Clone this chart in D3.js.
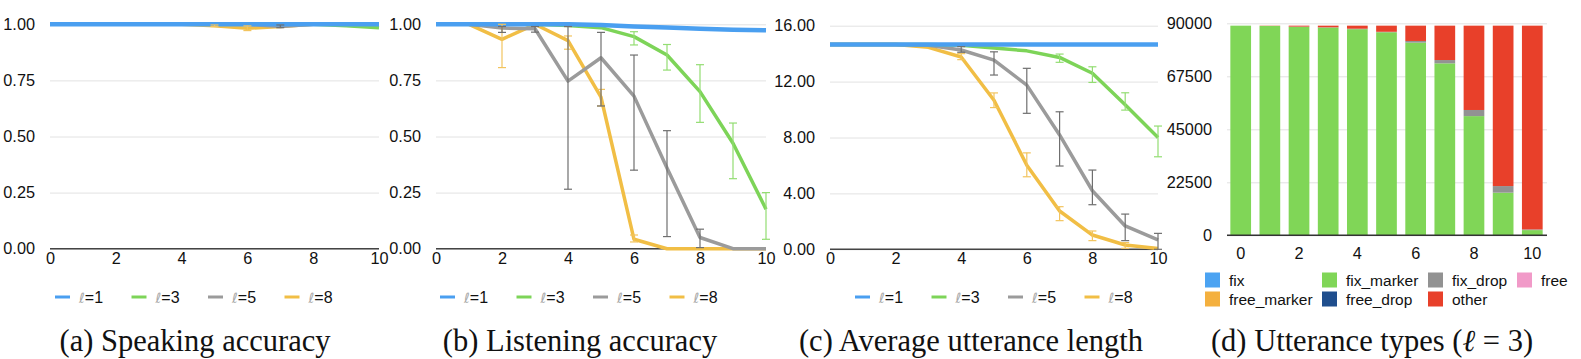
<!DOCTYPE html>
<html><head><meta charset="utf-8">
<script src="https://cdn.jsdelivr.net/npm/d3@7"></script>
<style>body{margin:0;background:#fff}</style>
</head><body><svg id="c" width="1581" height="359"></svg>
<script>
// ---------- data ----------
const steps = [0,1,2,3,4,5,6,7,8,9,10];
const stepTicks = [0,2,4,6,8,10];
const seriesLabels = ["1","3","5","8"];

// (a) Speaking accuracy
const speak1 = [1,1,1,1,1,1,1,1,1,1,1];
const speak3 = [1,1,1,1,1,1,1,1,1,0.994,0.985];
const speak5 = [1,1,1,1,1,1,1,0.99,1,1,1];
const speak8 = [1,1,1,1,1,0.993,0.982,0.99,1,1,1];
const speak5Lo = [null,null,null,null,null,null,null,0.985,null,null,null];
const speak5Hi = [null,null,null,null,null,null,null,0.997,null,null,null];
const speak8Lo = [null,null,null,null,null,0.99,0.972,null,null,null,null];
const speak8Hi = [null,null,null,null,null,0.997,0.993,null,null,null,null];
const accTicks = [0,0.25,0.5,0.75,1];

// (b) Listening accuracy
const listen1 = [1,1,1,1,1,0.997,0.99,0.986,0.98,0.976,0.973];
const listen3 = [1,1,1,1,0.995,0.985,0.945,0.863,0.70,0.47,0.176];
const listen5 = [1,1,0.983,0.98,0.747,0.851,0.68,0.36,0.05,0,0];
const listen8 = [1,1,0.933,1,0.927,0.675,0.042,0,0,0,0];
const listen3Lo = [null,null,null,null,null,null,0.908,0.796,0.563,0.312,0.042];
const listen3Hi = [null,null,null,null,null,null,0.967,0.91,0.82,0.56,0.25];
const listen5Lo = [null,null,0.964,0.965,0.265,0.636,0.35,0.054,0.005,null,null];
const listen5Hi = [null,null,0.99,0.99,0.99,0.964,0.863,0.526,0.087,null,null];
const listen8Lo = [null,null,0.807,null,0.889,0.636,0.03,null,null,null,null];
const listen8Hi = [null,null,1.0,null,0.948,0.71,0.061,null,null,null,null];

// (c) Average utterance length
const len1 = [14.65,14.65,14.65,14.65,14.65,14.65,14.65,14.65,14.65,14.65,14.65];
const len3 = [14.65,14.65,14.65,14.65,14.6,14.4,14.2,13.73,12.6,10.35,8.0];
const len5 = [14.65,14.65,14.65,14.6,14.26,13.54,11.75,8.18,4.19,1.67,0.67];
const len8 = [14.65,14.65,14.65,14.45,13.76,10.67,6.02,2.74,1.02,0.31,0.05];
const len3Lo = [null,null,null,null,null,null,null,13.38,11.94,9.96,6.62];
const len3Hi = [null,null,null,null,null,null,null,13.97,13.06,11.2,8.82];
const len5Lo = [null,null,null,null,14.1,12.47,9.73,5.96,3.19,0.62,0];
const len5Hi = [null,null,null,null,14.5,14.13,12.95,9.84,5.67,2.52,1.14];
const len8Lo = [null,null,null,null,13.57,10.14,5.19,2.05,0.62,0.07,null];
const len8Hi = [null,null,null,null,14.0,11.19,6.9,3.05,1.31,0.48,null];
const lenTicks = [0,4,8,12,16];

// (d) Utterance types (l=3)
const typeNames = ["fix","fix_marker","fix_drop","free","free_marker","free_drop","other"];
const cntFix        = [0,0,0,0,0,0,0,0,0,0,0];
const cntFixMarker  = [89000,88900,88500,88200,87500,86200,81800,73000,50600,18100,2200];
const cntFixDrop    = [0,0,100,100,200,200,700,1400,2600,2800,300];
const cntFree       = [0,0,0,0,0,0,0,0,0,0,0];
const cntFreeMarker = [0,0,0,0,0,0,0,0,0,0,0];
const cntFreeDrop   = [0,0,0,0,0,0,0,0,0,0,0];
const cntOther      = [0,100,400,700,1300,2600,6500,14600,35800,68100,86500];
const cntTicks = [0,22500,45000,67500,90000];

const captions = ["(a) Speaking accuracy","(b) Listening accuracy","(c) Average utterance length"];

// ---------- styles ----------
const lineColors = ["#4a9ff0","#7dd458","#9b9b9b","#f1be45"];
const errColors  = ["#4a9ff0","#93dd72","#6f6f6f","#f2c45e"];
const typeColors = ["#4ba3f2","#80d657","#929292","#f19ac8","#f4b03e","#1f4e8d","#e8402a"];
const sansFont = "'Liberation Sans', Arial, Helvetica, sans-serif";
const serifFont = "'Liberation Serif', 'Times New Roman', serif";
const tickSize = 16.3;

const svg = d3.select("#c");
svg.append("rect").attr("width",1581).attr("height",359).attr("fill","#fff");

function linePanel(cfg){
  const g = svg.append("g");
  const x = d3.scaleLinear().domain([0,10]).range([cfg.x0,cfg.x1]);
  const y = d3.scaleLinear().domain([cfg.ticks[0], cfg.ticks[cfg.ticks.length-1]]).range([cfg.yb,cfg.yt]);
  const ya = g.append("g").attr("transform",`translate(${cfg.x0},0)`)
    .call(d3.axisLeft(y).tickValues(cfg.ticks).tickSize(-(cfg.x1-cfg.x0)).tickPadding(15).tickFormat(d3.format(".2f")));
  ya.select(".domain").remove();
  ya.selectAll("line").attr("stroke","#e2e2e2").attr("stroke-width",1);
  ya.selectAll("text").attr("font-family",sansFont).attr("font-size",tickSize).attr("fill","#111");
  g.append("line").attr("x1",cfg.x0).attr("x2",cfg.x1).attr("y1",y(0)).attr("y2",y(0))
    .attr("stroke","#444").attr("stroke-width",1.5);
  const xa = g.append("g").attr("transform",`translate(0,${cfg.yb})`)
    .call(d3.axisBottom(x).tickValues(stepTicks).tickSize(0).tickPadding(3.5));
  xa.select(".domain").remove();
  xa.selectAll("text").attr("font-family",sansFont).attr("font-size",tickSize).attr("fill","#111");

  const line = d3.line().x((d,i)=>x(steps[i])).y(d=>y(d));
  const order = [3,2,1,0];
  order.forEach(si=>{
    g.append("path").datum(cfg.series[si]).attr("d",line).attr("fill","none")
      .attr("stroke",lineColors[si]).attr("stroke-width", si===0?4.5:3.5)
      .attr("stroke-linejoin","round").attr("stroke-linecap","butt");
  });
  order.forEach(si=>{
    const lo = cfg.lo[si], hi = cfg.hi[si];
    if(!lo) return;
    steps.forEach((s,i)=>{
      if(lo[i]==null) return;
      const eg = g.append("g").attr("stroke",errColors[si]).attr("stroke-width",1.2);
      eg.append("line").attr("x1",x(s)).attr("x2",x(s)).attr("y1",y(lo[i])).attr("y2",y(hi[i]));
      eg.append("line").attr("x1",x(s)-4).attr("x2",x(s)+4).attr("y1",y(lo[i])).attr("y2",y(lo[i]));
      eg.append("line").attr("x1",x(s)-4).attr("x2",x(s)+4).attr("y1",y(hi[i])).attr("y2",y(hi[i]));
    });
  });
  // legend
  seriesLabels.forEach((lab,i)=>{
    const lx = cfg.legX + i*76.5, ly = 297;
    g.append("line").attr("x1",lx).attr("x2",lx+15).attr("y1",ly).attr("y2",ly)
      .attr("stroke",lineColors[i]).attr("stroke-width",3);
    const t = g.append("text").attr("x",lx+24).attr("y",ly+5.8)
      .attr("font-family",sansFont).attr("font-size",16).attr("fill","#111");
    t.append("tspan").attr("fill","#aaa").attr("font-family","'DejaVu Sans', sans-serif").attr("font-size",14).text("ℓ");
    t.append("tspan").text("="+lab);
  });
  g.append("text").attr("x",cfg.capX).attr("y",351).attr("text-anchor","middle")
    .attr("font-family",serifFont).attr("font-size",30.5).attr("fill","#111").text(cfg.caption);
}

linePanel({x0:50,x1:379,yt:24.3,yb:248.7,ticks:accTicks,
  series:[speak1,speak3,speak5,speak8], lo:[null,null,speak5Lo,speak8Lo], hi:[null,null,speak5Hi,speak8Hi],
  legX:55, capX:195, caption:captions[0]});
linePanel({x0:436,x1:766,yt:24.3,yb:248.7,ticks:accTicks,
  series:[listen1,listen3,listen5,listen8], lo:[null,listen3Lo,listen5Lo,listen8Lo], hi:[null,listen3Hi,listen5Hi,listen8Hi],
  legX:440, capX:580, caption:captions[1]});
linePanel({x0:830,x1:1158,yt:25.7,yb:249.3,ticks:lenTicks,
  series:[len1,len3,len5,len8], lo:[null,len3Lo,len5Lo,len8Lo], hi:[null,len3Hi,len5Hi,len8Hi],
  legX:855, capX:971, caption:captions[2]});

// ---------- (d) stacked bars ----------
(function(){
  const g = svg.append("g");
  const x = d3.scaleBand().domain(steps).range([1227,1546]).paddingInner(0.29).paddingOuter(0.115);
  const y = d3.scaleLinear().domain([0,90000]).range([235.3,23.3]);
  const ya = g.append("g").attr("transform","translate(1227,0)")
    .call(d3.axisLeft(y).tickValues(cntTicks).tickSize(-320).tickPadding(15).tickFormat(d3.format("d")));
  ya.select(".domain").remove();
  ya.selectAll("line").attr("stroke","#e2e2e2");
  ya.selectAll("text").attr("font-family",sansFont).attr("font-size",tickSize).attr("fill","#111");
  const cols = [cntFix,cntFixMarker,cntFixDrop,cntFree,cntFreeMarker,cntFreeDrop,cntOther];
  const table = steps.map((s,i)=>{ const o={step:s}; typeNames.forEach((n,k)=>o[n]=cols[k][i]); return o; });
  const stack = d3.stack().keys(typeNames)(table);
  stack.forEach((layer,k)=>{
    g.append("g").attr("fill",typeColors[k]).selectAll("rect").data(layer).join("rect")
      .attr("x",d=>x(d.data.step)).attr("width",x.bandwidth())
      .attr("y",d=>y(d[1])).attr("height",d=>Math.max(0,y(d[0])-y(d[1])));
  });
  g.append("line").attr("x1",1227).attr("x2",1547).attr("y1",y(0)).attr("y2",y(0))
    .attr("stroke","#333").attr("stroke-width",1.5);
  const xa = g.append("g").attr("transform",`translate(0,${y(0)})`)
    .call(d3.axisBottom(x).tickValues(stepTicks).tickSize(0).tickPadding(12));
  xa.select(".domain").remove();
  xa.selectAll("text").attr("font-family",sansFont).attr("font-size",tickSize).attr("fill","#111");
  // legend
  const legPos = [[1205,280],[1322,280],[1428,280],[1517,280],[1205,299],[1322,299],[1428,299]];
  typeNames.forEach((name,k)=>{
    const [lx,ly] = legPos[k];
    g.append("rect").attr("x",lx).attr("y",ly-7.5).attr("width",15).attr("height",15).attr("fill",typeColors[k]);
    g.append("text").attr("x",lx+24).attr("y",ly+5.6).attr("font-family",sansFont).attr("font-size",15.5)
      .attr("fill","#111").text(name);
  });
  const cap = g.append("text").attr("x",1372).attr("y",351).attr("text-anchor","middle")
    .attr("font-family",serifFont).attr("font-size",30.5).attr("fill","#111");
  cap.append("tspan").text("(d) Utterance types (");
  cap.append("tspan").attr("font-style","italic").text("ℓ");
  cap.append("tspan").text(" = 3)");
})();
</script></body></html>
